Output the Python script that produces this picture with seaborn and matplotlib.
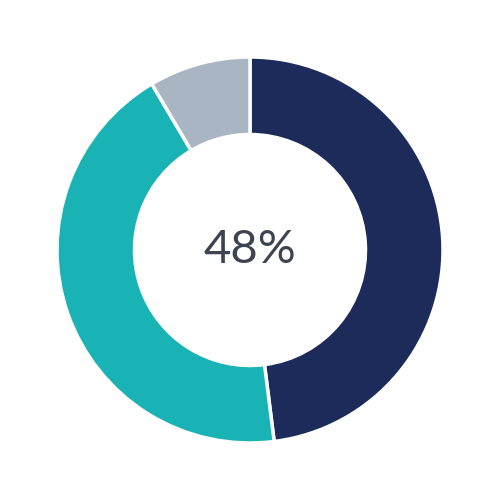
import matplotlib.pyplot as plt
import seaborn as sns

# slice shares, clockwise from the top
labels = ['Navy', 'Teal', 'Gray']
shares = [48, 43.5, 8.5]
colors = ['#1c2b5a', '#1ab3b5', '#a9b5c3']
center_text = '48%'

sns.set_theme(style='white')
plt.rcParams['font.family'] = ['Lato', 'DejaVu Sans']

fig, ax = plt.subplots(figsize=(5, 5), dpi=100)
fig.subplots_adjust(left=0, right=1, top=1, bottom=0)

ax.pie(shares, colors=colors, startangle=90, counterclock=False,
       radius=0.772, wedgeprops=dict(width=0.31, edgecolor='white', linewidth=2.5))
ax.text(0, 0, center_text, ha='center', va='center', fontsize=34,
        color='#3d4350', fontweight='normal')
ax.set_xlim(-1, 1)
ax.set_ylim(-1, 1)
ax.set_aspect('equal')
ax.axis('off')

fig.savefig('out.png', dpi=100, facecolor='white')
